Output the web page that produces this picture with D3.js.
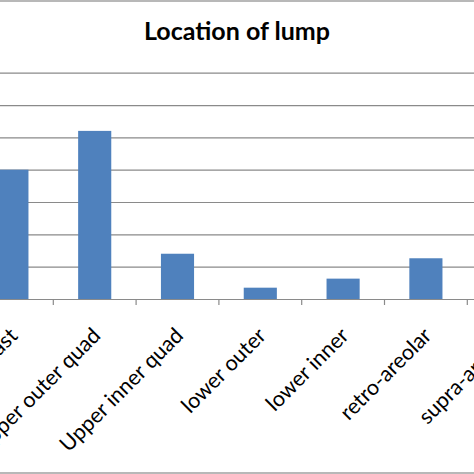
<!DOCTYPE html>
<html>
<head>
<meta charset="utf-8">
<script src="https://cdn.jsdelivr.net/npm/d3@7"></script>
<style>
  body { margin: 0; background: #fff; }
  svg { display: block; }
</style>
</head>
<body>
<div class="chart"></div>
<script>
  const title = 'Location of lump';
  const categories = ['Whole breast', 'Upper outer quad', 'Upper inner quad', 'lower outer', 'lower inner', 'retro-areolar', 'supra-areolar'];
  const counts = [40, 52, 14, 3.5, 6.3, 12.6, 2];
  const yTicks = [0, 10, 20, 30, 40, 50, 60, 70];

  const width = 474;
  const height = 474;
  // the picture is a crop: the plot runs past both side edges
  const plot = { left: -29.5, right: 550.1, top: 72.7, bottom: 299 };

  const xScale = d3.scaleBand()
    .domain(categories)
    .range([plot.left, plot.right])
    .paddingInner(0.6)
    .paddingOuter(0.3);

  const yScale = d3.scaleLinear()
    .domain([0, 70])
    .range([plot.bottom, plot.top]);

  const svg = d3.select('.chart').append('svg')
    .attr('width', width)
    .attr('height', height);

  // outer frame lines (top / bottom edges of the chart box)
  svg.append('line')
    .attr('x1', 0).attr('x2', width)
    .attr('y1', 1).attr('y2', 1)
    .attr('stroke', '#b8b8b8').attr('stroke-width', 2);
  svg.append('line')
    .attr('x1', 0).attr('x2', width)
    .attr('y1', 473).attr('y2', 473)
    .attr('stroke', '#b8b8b8').attr('stroke-width', 2);

  svg.append('text')
    .attr('x', 237)
    .attr('y', 40)
    .attr('text-anchor', 'middle')
    .style('font-family', 'Lato')
    .style('font-weight', 'bold')
    .style('font-size', '25px')
    .attr('fill', '#000')
    .text(title);

  // gridlines, incl. the baseline
  const grid = svg.append('g')
    .attr('class', 'grid')
    .attr('transform', `translate(${plot.left}, 0)`)
    .call(d3.axisLeft(yScale).tickValues(yTicks).tickSize(-(plot.right - plot.left)).tickFormat(''));
  grid.select('.domain').remove();
  grid.selectAll('line')
    .attr('stroke', '#8a8a8a')
    .attr('stroke-width', 1.2);

  // category boundary ticks
  const step = xScale.step();
  const boundaries = d3.range(categories.length + 1).map(i => plot.left + i * step);
  svg.append('g')
    .attr('class', 'x-ticks')
    .selectAll('line')
    .data(boundaries)
    .join('line')
    .attr('x1', d => d).attr('x2', d => d)
    .attr('y1', plot.bottom).attr('y2', plot.bottom + 6)
    .attr('stroke', '#8a8a8a')
    .attr('stroke-width', 1.2);

  svg.append('g')
    .attr('class', 'bars')
    .selectAll('rect')
    .data(categories)
    .join('rect')
    .attr('x', d => xScale(d))
    .attr('y', (d, i) => yScale(counts[i]))
    .attr('width', xScale.bandwidth())
    .attr('height', (d, i) => yScale(0) - yScale(counts[i]))
    .attr('fill', '#4F81BD');

  const xAxis = svg.append('g')
    .attr('class', 'x-axis')
    .attr('transform', `translate(0, ${plot.bottom})`)
    .call(d3.axisBottom(xScale).tickSize(0));
  xAxis.select('.domain').remove();
  xAxis.selectAll('text')
    .attr('y', 0)
    .attr('dy', 0)
    .attr('text-anchor', 'end')
    .attr('transform', 'translate(7, 38) rotate(-45)')
    .attr('fill', '#000')
    .style('font-family', 'Lato')
    .style('font-size', '21.5px');
</script>
</body>
</html>
